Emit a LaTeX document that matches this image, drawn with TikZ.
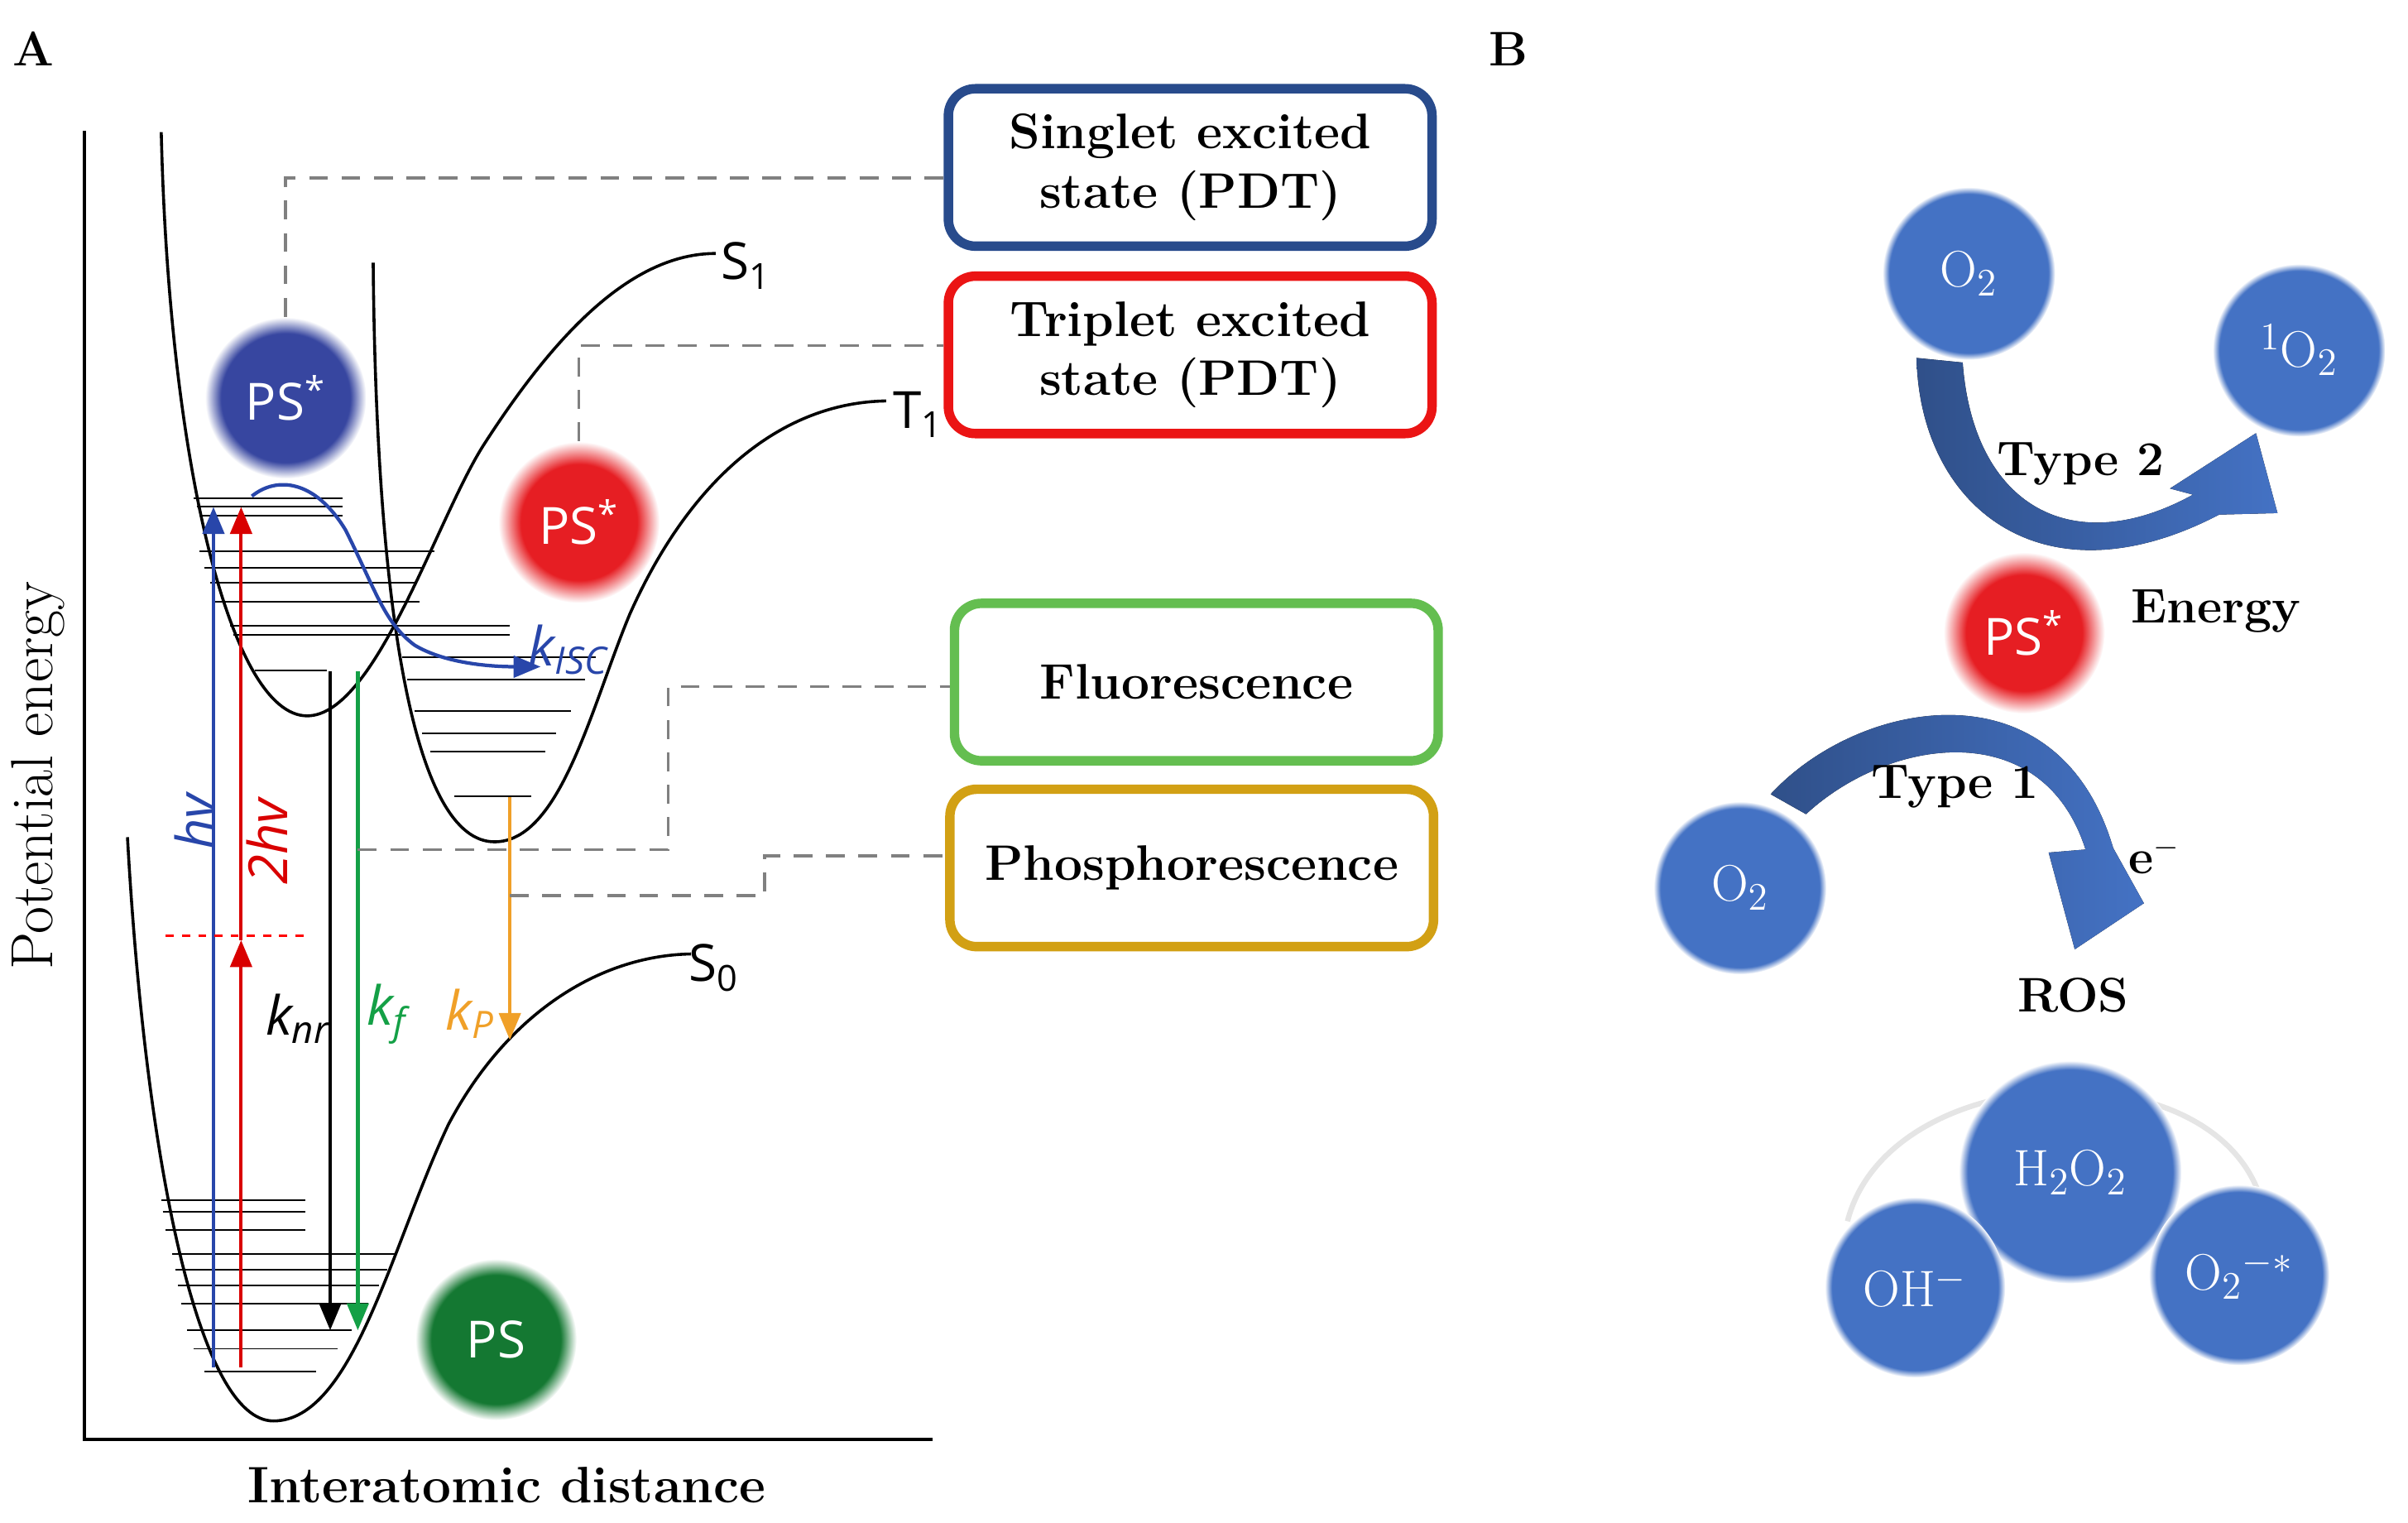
\documentclass[tikz,border=0pt]{standalone}
\usepackage{fontspec}
\newfontfamily\sansf{Open Sans}
\usetikzlibrary{arrows.meta}
\definecolor{sblue}{RGB}{40,75,140}
\definecolor{sred}{RGB}{235,20,20}
\definecolor{sgreen}{RGB}{100,190,80}
\definecolor{sgold}{RGB}{210,160,20}
\definecolor{obl}{RGB}{68,114,196}
\definecolor{psb}{RGB}{55,70,160}
\definecolor{psr}{RGB}{230,30,35}
\definecolor{psg}{RGB}{20,120,50}
\definecolor{kblue}{RGB}{40,70,170}
\definecolor{kgreen}{RGB}{20,160,70}
\definecolor{korange}{RGB}{240,160,40}
\pgfdeclareradialshading{fzb}{\pgfpoint{0bp}{0bp}}{color(0bp)=(psb);color(20bp)=(psb);color(25bp)=(white);color(50bp)=(white)}
\pgfdeclareradialshading{fzr}{\pgfpoint{0bp}{0bp}}{color(0bp)=(psr);color(18bp)=(psr);color(25bp)=(white);color(50bp)=(white)}
\pgfdeclareradialshading{fzg}{\pgfpoint{0bp}{0bp}}{color(0bp)=(psg);color(20bp)=(psg);color(25bp)=(white);color(50bp)=(white)}
\pgfdeclareradialshading{fzo}{\pgfpoint{0bp}{0bp}}{color(0bp)=(obl);color(23bp)=(obl);color(25bp)=(white);color(50bp)=(white)}
\tikzset{
 pot/.style={line width=1.1pt},
 lev/.style={line width=0.6pt},
 gdash/.style={gray,line width=1.1pt,dash pattern=on 7pt off 5pt},
 box/.style={draw,rounded corners=10pt,line width=3.5pt,minimum width=6.3cm,minimum height=2.05cm,align=center,font=\fontsize{18.5}{22}\selectfont\bfseries},
 ps/.style={circle,minimum size=2.1cm,text=white,font=\sansf\fontsize{19}{20}\selectfont},
 ob/.style={circle,shading=fzo,text=white,font=\fontsize{19}{22}\selectfont},
 lab/.style={font=\fontsize{18}{20}\selectfont\bfseries},
 kl/.style={font=\sansf\itshape\fontsize{20}{20}\selectfont},
 tr/.style={line width=1.3pt,-{Triangle[length=10pt,width=8pt]}}
}
\begin{document}
\begin{tikzpicture}[x=0.02cm,y=-0.02cm]
\useasboundingbox (0,0) rectangle (1568,991);
% labels
\node[lab] (A) at (22,32) {A};
\node[lab] (B) at (982,32) {B};
% axes
\coordinate (ax0) at (55,85); \coordinate (ax1) at (55,937); \coordinate (ax2) at (607,937);
\draw[line width=1pt] (ax0) -- (ax1) -- (ax2);
\node[rotate=90,font=\fontsize{22}{24}\selectfont] (pe) at (25,505) {Potential energy};
\node[lab,font=\fontsize{19}{20}\selectfont\bfseries] (ia) at (330,967) {Interatomic distance};
% energy levels
\foreach \y/\a/\b in {324.5/126/223,329.7/128/223,335.6/130/223,359/130/283,369.5/133/276,379.4/137/270,391.7/140/273,407.5/150/332,413.3/152/332,436.7/166/213}
  \draw[lev] (\a,\y) -- (\b,\y);
\foreach \y/\a/\b in {428/262/388,442.5/265/381,463/270/372,477.6/275/362,489.3/280/355,518.5/296/346}
  \draw[lev] (\a,\y) -- (\b,\y);
\foreach \y/\a/\b in {781.5/105/199,789/106/199,800.8/108/199,816.5/112/258,826.5/114/252,837/116/247,848.7/118/240,866/122/229,878/126/220,892.6/133/206}
  \draw[lev] (\a,\y) -- (\b,\y);
% potential curves
\draw[pot] (83,545) .. controls (95,760) and (130,925) .. (178,925) .. controls (230,925) and (255,810) .. (292,732) .. controls (330,660) and (390,622) .. (450,621);
\draw[pot] (105,86) .. controls (110,300) and (150,466) .. (200,466) .. controls (245,466) and (285,335) .. (316,288) .. controls (360,220) and (410,165) .. (466,165);
\draw[pot] (243,171) .. controls (245,400) and (270,548) .. (322,548) .. controls (365,548) and (385,460) .. (410,400) .. controls (450,310) and (510,262) .. (577,261);
\node[font=\sansf\fontsize{19}{20}\selectfont] (S1) at (486,173) {S\textsubscript{1}};
\node[font=\sansf\fontsize{19}{20}\selectfont] (T1) at (598,270) {T\textsubscript{1}};
\node[font=\sansf\fontsize{19}{20}\selectfont] (S0) at (465,630) {S\textsubscript{0}};
% PS circles
\node[ps,shading=fzb] (psb) at (186,259) {PS\textsuperscript{*}};
\node[ps,shading=fzr] (psr) at (377,340) {PS\textsuperscript{*}};
\node[ps,shading=fzg] (psg) at (323,872) {PS};
% transitions
\coordinate (hvb) at (139,890); \coordinate (hvt) at (139,330);
\coordinate (rb) at (157,890); \coordinate (rm) at (157,612); \coordinate (rt) at (157,330);
\draw[tr,kblue] (hvb) -- (hvt);
\draw[tr,red!85!black] (rb) -- (rm);
\draw[tr,red!85!black] (rm) -- (rt);
\coordinate (rd1) at (108,609); \coordinate (rd2) at (202,609);
\draw[red,dashed,line width=0.8pt] (rd1) -- (rd2);
\node[kl,kblue,rotate=90] (hv) at (127,535) {hv};
\node[kl,red!85!black,rotate=90] (thv) at (174,548) {2hv};
\coordinate (k1) at (215,437); \coordinate (k2) at (215,866);
\draw[tr,black] (k1) -- (k2);
\coordinate (f1) at (233,437); \coordinate (f2) at (233,866);
\draw[tr,kgreen] (f1) -- (f2);
\coordinate (p1) at (332,519); \coordinate (p2) at (332,677);
\draw[tr,korange] (p1) -- (p2);
\node[kl] (knr) at (194,663) {k\textsubscript{nr}};
\node[kl,kgreen] (kf) at (252,660) {k\textsubscript{f}};
\node[kl,korange] (kp) at (306,660) {k\textsubscript{P}};
\coordinate (i1) at (164,323); \coordinate (i2) at (352,434);
\draw[kblue,line width=1.3pt,-{Triangle[length=10pt,width=8pt]}] (i1) .. controls (180,310) and (205,312) .. (225,345) .. controls (245,385) and (250,405) .. (270,420) .. controls (290,432) and (320,434) .. (i2);
\node[kl,kblue] (kisc) at (370,423) {k\textsubscript{ISC}};
% boxes
\node[box,draw=sblue] (bs) at (775,109) {Singlet excited\\state (PDT)};
\node[box,draw=sred] (bt) at (775,231) {Triplet excited\\state (PDT)};
\node[box,draw=sgreen] (bf) at (779,444) {Fluorescence};
\node[box,draw=sgold] (bp) at (776,565) {Phosphorescence};
% dashed connectors
\coordinate (d1) at (186,116); \draw[gdash] (psb.north) -- (d1) -- (d1 -| bs.west);
\coordinate (d2) at (377,225); \draw[gdash] (psr.north) -- (d2) -- (d2 -| bt.west);
\coordinate (d3) at (233,553); \coordinate (d3a) at (435,553); \coordinate (d3b) at (435,447);
\draw[gdash] (d3) -- (d3a) -- (d3b) -- (d3b -| bf.west);
\coordinate (d4) at (332,583); \coordinate (d4a) at (498,583); \coordinate (d4b) at (498,557);
\draw[gdash] (d4) -- (d4a) -- (d4b) -- (d4b -| bp.west);
% panel B
\coordinate (arcL) at (1203,795); \coordinate (arcR) at (1472,780);
\draw[gray!20,line width=2pt] (arcL) .. controls (1230,690) and (1440,680) .. (arcR);
\node[ob,minimum size=2.25cm] (o2a) at (1282,178) {O$_2$};
\node[ob,minimum size=2.25cm] (o1) at (1497,228) {$^1$O$_2$};
\node[ob,minimum size=2.25cm] (o2b) at (1133,578) {O$_2$};
\node[ob,minimum size=2.9cm] (h2o2) at (1348,763) {H$_2$O$_2$};
\node[ob,minimum size=2.35cm] (oh) at (1247,838) {OH$^{-}$};
\node[ob,minimum size=2.35cm] (o2m) at (1458,830) {O$_2$$^{-*}$};
\node[ps,shading=fzr,minimum size=2.1cm] (psr2) at (1318,412) {PS\textsuperscript{*}};
\fill[left color=obl!70!black,right color=obl] (1248,233) .. controls (1250,330) and (1330,395) .. (1445,335) -- (1483,334) -- (1469,282) -- (1413,318) -- (1428,322) .. controls (1350,365) and (1285,330) .. (1278,236) -- cycle;
\fill[left color=obl!70!black,right color=obl] (1153,517) .. controls (1210,455) and (1340,430) .. (1376,552) -- (1396,588) -- (1351,618) -- (1334,555) -- (1358,553) .. controls (1330,465) and (1230,480) .. (1176,530) -- cycle;
\node[lab] (t2) at (1355,302) {Type 2};
\node[lab] (en) at (1443,398) {Energy};
\node[lab] (t1) at (1273,512) {Type 1};
\node[lab] (em) at (1403,557) {e$^{-}$};
\node[lab] (ros) at (1350,648) {ROS};
\end{tikzpicture}
\end{document}
